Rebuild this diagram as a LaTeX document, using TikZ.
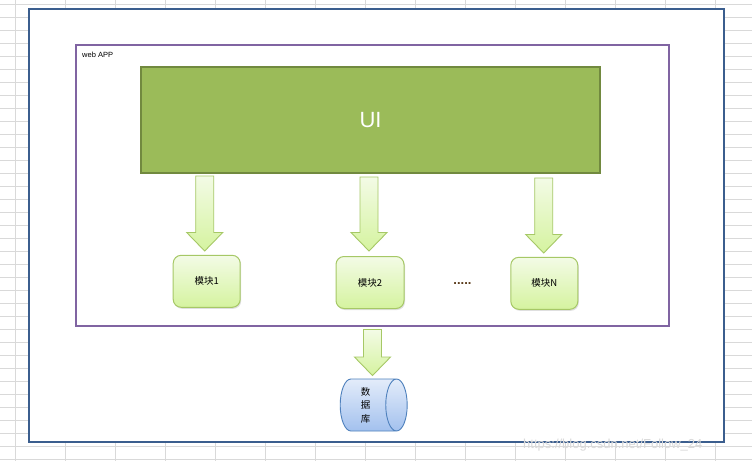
\documentclass[tikz,border=0pt]{standalone}
\usepackage{fontspec}
\setmainfont{Liberation Sans}
\newfontfamily\cjk{Noto Sans CJK SC}
\usetikzlibrary{shapes.geometric,shadows,calc}
\definecolor{gridc}{HTML}{D9D9D9}
\definecolor{outerc}{HTML}{3B5E8E}
\definecolor{appc}{HTML}{8064A2}
\definecolor{uifill}{HTML}{9BBB59}
\definecolor{uidraw}{HTML}{71893F}
\definecolor{gtop}{HTML}{F3FBE6}
\definecolor{gbot}{HTML}{D5F39F}
\definecolor{gdraw}{HTML}{A6C866}
\definecolor{btop}{HTML}{E3ECFA}
\definecolor{bbot}{HTML}{A3C1EE}
\definecolor{bdraw}{HTML}{4F81BD}
\definecolor{dotc}{HTML}{5A3A1A}
\tikzset{
  frameline/.style={line width=2pt},
  modbox/.style={draw=gdraw, line width=1pt, rounded corners=8pt, top color=gtop, bottom color=gbot,
     minimum width=67pt, minimum height=52pt, inner sep=0pt, font=\cjk\fontsize{9.5}{11}\selectfont,
     drop shadow={shadow xshift=1pt, shadow yshift=-1.5pt, opacity=0.25}},
  arrowstyle/.style={draw=gdraw, line width=0.9pt, top color=gtop, bottom color=gbot, line join=miter},
  pics/blockarrow/.style={code={
    \path[arrowstyle] (-9,0) -- (9,0) -- (9,{#1-18.5}) -- (18,{#1-18.5}) -- (0,#1)
       -- (-18,{#1-18.5}) -- (-9,{#1-18.5}) -- cycle;
  }},
}
\begin{document}
\begin{tikzpicture}[x=1pt,y=-1pt]
\useasboundingbox (0,0) rectangle (752,461);
\fill[white] (0,0) rectangle (752,461);
% spreadsheet grid
\foreach \k in {0,...,14} \draw[gridc, line width=1pt] ({15+50*\k},0) -- ({15+50*\k},461);
\foreach \k in {0,...,35} \draw[gridc, line width=1pt] (0,{4+13*\k}) -- (752,{4+13*\k});
% frames
\draw[frameline, draw=outerc, fill=white] (29,9) rectangle (724,442);
\draw[frameline, draw=appc] (76,44.5) rectangle (669,325.5);
\node[anchor=west, inner sep=0pt, font=\fontsize{7.5}{9}\selectfont] (applabel) at (82,55) {web APP};
% UI
\node[draw=uidraw, fill=uifill, line width=2pt, minimum width=459pt, minimum height=106pt,
      text=white, font=\fontsize{22}{26}\selectfont] (ui) at (370.5,120) {UI};
% modules
\node[modbox] (m1) at (206.7,281.3) {模块1};
\node[modbox, minimum width=68pt] (m2) at (370,282.5) {模块2};
\node[modbox] (mN) at (544.3,283.3) {模块N};
\node[text=dotc, inner sep=0pt, font=\fontsize{13}{15}\selectfont\bfseries] (dots) at (462.5,284) {.....};
% database
\node[cylinder, draw=bdraw, line width=0.9pt, top color=btop, bottom color=bbot,
      minimum width=52pt, minimum height=67pt, aspect=0.55, inner sep=0pt,
      anchor=shape center] (db) at (373.7,405) {\phantom{\rule{10pt}{39pt}}};
\node[align=center, inner sep=0pt, font=\cjk\fontsize{9.5}{13.5}\selectfont] (dbtext)
      at ($(db.shape center)+(-8,0)$) {数\\据\\库};
% arrows
\pic at ($(ui.south -| m1.north)+(-2,2)$) {blockarrow=75};
\pic at ($(ui.south -| m2.north)+(-1,3)$) {blockarrow=74};
\pic at ($(ui.south -| mN.north)+(-0.6,4)$) {blockarrow=75};
\pic at ($(db.north -| 372.5,0)+(0,-49)$) {blockarrow=46};
% watermark
\node[anchor=west, inner sep=0pt, text=gray!30, font=\fontsize{13}{15}\selectfont] (wm) at (523,445) {https://blog.csdn.net/Follow\_24};
\end{tikzpicture}
\end{document}
